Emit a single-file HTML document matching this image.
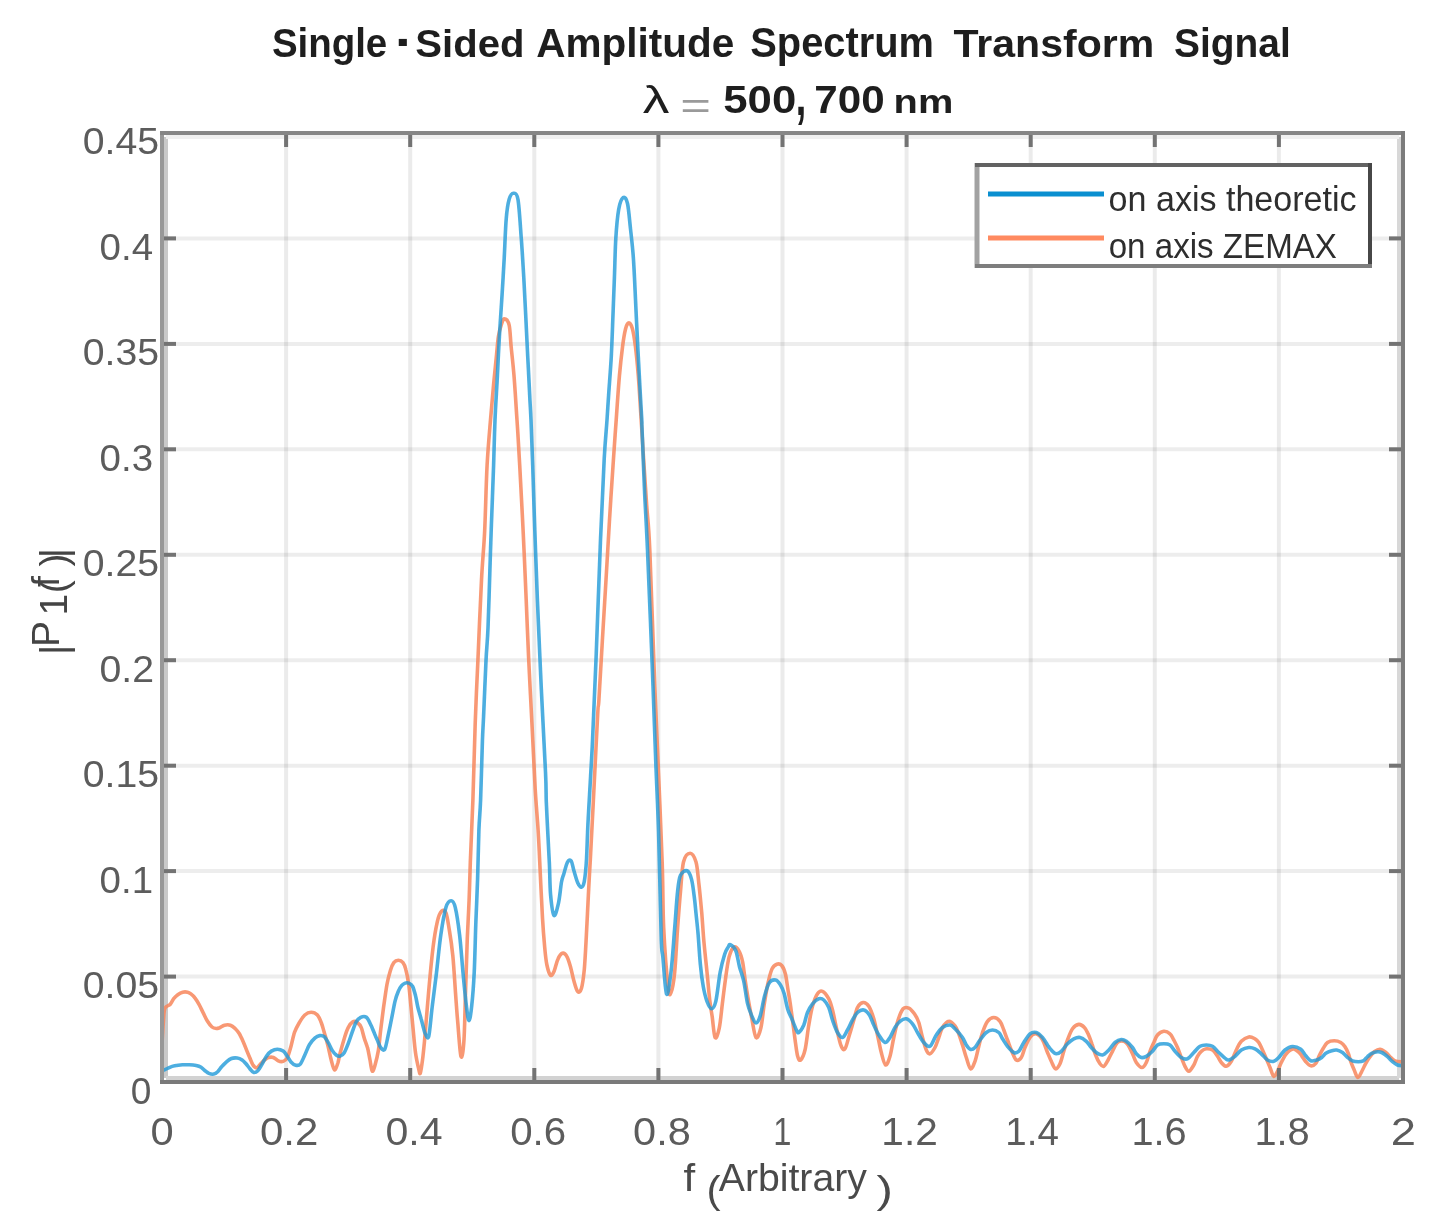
<!DOCTYPE html><html><head><meta charset="utf-8"><style>html,body{margin:0;padding:0;background:#fff;width:1440px;height:1227px;overflow:hidden}svg{display:block}</style></head><body><svg width="1440" height="1227" viewBox="0 0 1440 1227">
<rect width="1440" height="1227" fill="#fff"/>
<line x1="286.1" y1="135.0" x2="286.1" y2="1080.0" stroke="#000" stroke-opacity="0.078" stroke-width="4"/>
<line x1="410.2" y1="135.0" x2="410.2" y2="1080.0" stroke="#000" stroke-opacity="0.078" stroke-width="4"/>
<line x1="534.3" y1="135.0" x2="534.3" y2="1080.0" stroke="#000" stroke-opacity="0.078" stroke-width="4"/>
<line x1="658.4" y1="135.0" x2="658.4" y2="1080.0" stroke="#000" stroke-opacity="0.078" stroke-width="4"/>
<line x1="782.5" y1="135.0" x2="782.5" y2="1080.0" stroke="#000" stroke-opacity="0.078" stroke-width="4"/>
<line x1="906.6" y1="135.0" x2="906.6" y2="1080.0" stroke="#000" stroke-opacity="0.078" stroke-width="4"/>
<line x1="1030.7" y1="135.0" x2="1030.7" y2="1080.0" stroke="#000" stroke-opacity="0.078" stroke-width="4"/>
<line x1="1154.8" y1="135.0" x2="1154.8" y2="1080.0" stroke="#000" stroke-opacity="0.078" stroke-width="4"/>
<line x1="1278.9" y1="135.0" x2="1278.9" y2="1080.0" stroke="#000" stroke-opacity="0.078" stroke-width="4"/>
<line x1="164.0" y1="976.6" x2="1401.0" y2="976.6" stroke="#000" stroke-opacity="0.07" stroke-width="4"/>
<line x1="164.0" y1="871.1" x2="1401.0" y2="871.1" stroke="#000" stroke-opacity="0.07" stroke-width="4"/>
<line x1="164.0" y1="765.7" x2="1401.0" y2="765.7" stroke="#000" stroke-opacity="0.07" stroke-width="4"/>
<line x1="164.0" y1="660.2" x2="1401.0" y2="660.2" stroke="#000" stroke-opacity="0.07" stroke-width="4"/>
<line x1="164.0" y1="554.8" x2="1401.0" y2="554.8" stroke="#000" stroke-opacity="0.07" stroke-width="4"/>
<line x1="164.0" y1="449.3" x2="1401.0" y2="449.3" stroke="#000" stroke-opacity="0.07" stroke-width="4"/>
<line x1="164.0" y1="343.9" x2="1401.0" y2="343.9" stroke="#000" stroke-opacity="0.07" stroke-width="4"/>
<line x1="164.0" y1="238.4" x2="1401.0" y2="238.4" stroke="#000" stroke-opacity="0.07" stroke-width="4"/>
<line x1="166" y1="137" x2="166" y2="1078" stroke="#c9c9c9" stroke-width="4"/>
<line x1="166" y1="1078" x2="1399" y2="1078" stroke="#d2d2d2" stroke-width="4"/>
<line x1="1399" y1="137" x2="1399" y2="1078" stroke="#d8d8d8" stroke-width="4"/>
<line x1="166" y1="137" x2="1399" y2="137" stroke="#f0f0f0" stroke-width="4"/>
<defs><clipPath id="cp"><rect x="163.0" y="133.0" width="1239.0" height="949.0"/></clipPath><filter id="bl" x="-5%" y="-5%" width="110%" height="110%"><feGaussianBlur stdDeviation="0.7"/></filter></defs>
<g fill="none" stroke-linejoin="round" stroke-linecap="round" clip-path="url(#cp)"><g filter="url(#bl)">
<path d="M162.0 1045.0C162.2 1040.8 163.0 1026.2 163.5 1020.0C164.0 1013.8 163.9 1010.6 165.0 1008.0C166.1 1005.4 168.7 1005.9 170.1 1004.4C171.5 1002.9 172.4 1000.3 173.7 998.7C175.0 997.1 176.3 995.8 177.8 994.7C179.3 993.6 181.1 992.6 182.7 992.2C184.3 991.8 186.2 991.9 187.6 992.2C189.0 992.5 189.7 993.0 190.9 993.9C192.1 994.8 193.6 996.1 194.9 997.9C196.2 999.6 197.6 1001.9 199.0 1004.4C200.4 1006.9 201.7 1009.9 203.1 1012.6C204.5 1015.3 205.7 1018.3 207.2 1020.7C208.7 1023.1 210.5 1025.7 212.0 1027.0C213.5 1028.3 215.1 1028.4 216.4 1028.5C217.7 1028.6 218.2 1028.2 219.6 1027.7C220.9 1027.2 222.7 1025.6 224.5 1025.2C226.3 1024.8 228.6 1024.6 230.4 1025.2C232.2 1025.8 233.8 1027.3 235.3 1028.7C236.8 1030.1 237.9 1031.4 239.2 1033.5C240.5 1035.6 241.8 1038.5 243.1 1041.4C244.4 1044.3 245.9 1048.3 247.0 1051.1C248.1 1053.9 248.9 1055.7 249.9 1058.0C250.9 1060.3 251.8 1063.2 252.9 1064.8C254.1 1066.4 255.5 1068.0 256.8 1067.8C258.1 1067.6 259.4 1065.1 260.7 1063.8C262.0 1062.5 263.3 1061.0 264.6 1059.9C265.9 1058.9 267.0 1057.9 268.5 1057.5C270.0 1057.1 271.8 1056.9 273.4 1057.5C275.0 1058.1 276.7 1060.2 278.3 1060.9C279.9 1061.6 281.7 1061.9 283.2 1061.4C284.7 1060.9 285.8 1060.5 287.1 1058.0C288.4 1055.5 289.8 1050.5 291.0 1046.2C292.2 1041.9 293.2 1036.1 294.6 1032.2C296.0 1028.3 297.4 1025.9 299.1 1023.0C300.8 1020.1 302.8 1016.8 304.8 1015.0C306.8 1013.2 309.0 1012.2 311.1 1012.2C313.2 1012.2 315.7 1013.2 317.4 1015.0C319.1 1016.8 320.3 1020.1 321.4 1023.0C322.5 1025.9 323.1 1028.6 324.2 1032.2C325.2 1035.8 326.5 1040.2 327.7 1044.7C328.9 1049.2 330.0 1055.3 331.1 1059.5C332.2 1063.7 333.4 1069.2 334.5 1069.8C335.6 1070.4 336.9 1065.8 337.9 1063.0C338.8 1060.2 339.0 1057.1 340.2 1052.7C341.4 1048.3 343.5 1040.9 344.8 1036.7C346.1 1032.5 346.9 1030.1 348.2 1027.6C349.5 1025.1 351.3 1022.8 352.8 1021.9C354.3 1021.0 355.9 1021.5 357.3 1022.5C358.7 1023.5 360.2 1025.0 361.3 1027.6C362.4 1030.2 363.1 1034.5 364.2 1037.9C365.2 1041.3 366.7 1044.5 367.6 1048.1C368.6 1051.7 369.1 1055.7 369.9 1059.5C370.7 1063.3 371.3 1070.0 372.2 1071.0C373.1 1072.0 374.0 1068.6 375.0 1065.2C376.0 1061.8 377.4 1056.3 378.4 1050.4C379.3 1044.5 379.8 1037.1 380.7 1029.9C381.6 1022.7 382.6 1014.6 383.6 1007.0C384.7 999.4 385.9 990.3 387.0 984.2C388.1 978.1 389.3 974.1 390.4 970.5C391.5 966.9 392.5 964.3 393.8 962.6C395.1 960.9 396.9 960.3 398.4 960.3C399.9 960.3 401.8 961.1 403.0 962.6C404.2 964.1 404.9 965.8 405.8 969.4C406.8 973.0 407.8 977.9 408.7 984.2C409.6 990.5 410.2 999.4 411.0 1007.0C411.8 1014.6 412.4 1022.3 413.2 1029.9C413.9 1037.5 414.6 1046.1 415.5 1052.7C416.4 1059.3 418.1 1066.4 418.9 1069.8C419.7 1073.2 419.7 1074.6 420.3 1073.0C420.9 1071.4 421.8 1065.3 422.5 1060.0C423.2 1054.7 423.4 1052.8 424.5 1041.1C425.6 1029.4 427.4 1005.5 428.8 989.8C430.2 974.1 431.7 958.4 433.1 947.0C434.5 935.6 436.0 927.3 437.4 921.3C438.8 915.3 440.3 912.5 441.7 911.1C443.1 909.7 444.6 909.7 445.9 912.8C447.2 915.9 448.1 922.8 449.3 929.9C450.5 937.0 451.8 945.5 452.8 955.5C453.8 965.5 454.5 978.4 455.3 989.8C456.1 1001.2 456.9 1012.9 457.9 1024.0C458.8 1035.1 460.0 1053.7 461.0 1056.5C462.0 1059.3 463.1 1052.2 463.9 1041.1C464.7 1030.0 465.0 1006.9 465.6 989.8C466.2 972.7 466.7 953.4 467.3 938.4C467.9 923.4 468.6 912.6 469.1 900.0C469.6 887.4 469.7 879.5 470.3 862.8C470.9 846.1 472.1 823.2 472.9 800.0C473.7 776.8 474.4 746.7 475.2 723.5C476.0 700.3 476.8 684.6 477.9 660.7C478.9 636.8 480.4 601.7 481.5 580.0C482.6 558.3 483.8 549.4 484.7 530.3C485.6 511.2 486.1 483.6 487.1 465.2C488.1 446.8 489.4 433.3 490.5 420.0C491.6 406.7 492.5 396.1 493.5 385.5C494.5 374.9 495.6 364.2 496.4 356.1C497.2 348.0 497.6 341.8 498.4 336.6C499.2 331.4 500.3 327.8 501.3 324.8C502.3 321.9 502.9 318.9 504.2 318.9C505.5 318.9 508.0 320.2 509.1 324.8C510.2 329.4 510.3 337.8 511.1 346.3C511.9 354.8 513.0 363.4 514.0 375.7C515.0 388.0 516.0 405.1 517.0 420.0C518.0 434.9 518.7 446.8 519.7 465.2C520.7 483.6 522.0 507.8 523.1 530.3C524.2 552.8 525.3 578.8 526.2 600.0C527.1 621.2 527.6 635.6 528.6 657.4C529.6 679.2 531.2 708.7 532.3 730.7C533.4 752.7 534.2 772.9 535.2 789.4C536.2 805.9 537.2 815.9 538.1 830.0C539.0 844.1 539.6 859.3 540.3 874.0C541.0 888.7 541.8 905.9 542.5 918.1C543.2 930.3 544.0 939.6 544.7 947.4C545.4 955.2 545.9 960.4 546.9 965.0C547.9 969.6 549.3 974.3 550.5 975.3C551.7 976.3 553.0 973.6 554.2 970.9C555.4 968.2 556.5 962.1 557.9 959.2C559.2 956.3 560.8 953.8 562.3 953.3C563.8 952.8 565.4 954.0 566.7 956.2C568.1 958.4 569.2 962.3 570.4 966.5C571.6 970.7 572.8 977.0 574.0 981.2C575.2 985.4 576.5 990.3 577.7 991.5C578.9 992.7 580.3 992.2 581.4 988.5C582.5 984.8 583.4 978.7 584.3 969.4C585.1 960.1 585.8 946.2 586.5 932.7C587.2 919.2 588.1 900.8 588.7 888.7C589.3 876.6 589.5 874.1 590.3 860.0C591.0 845.9 592.0 828.0 593.2 804.0C594.4 780.0 596.7 733.3 597.6 716.0C598.5 698.7 598.1 712.7 598.9 700.0C599.7 687.3 601.2 660.0 602.4 640.0C603.6 620.0 604.8 600.0 606.0 580.0C607.2 560.0 608.3 540.0 609.5 520.0C610.7 500.0 612.3 476.7 613.4 460.0C614.5 443.3 615.2 434.0 616.2 420.0C617.2 406.0 618.3 388.3 619.4 376.0C620.5 363.7 621.6 354.2 622.6 346.3C623.6 338.4 624.6 332.6 625.6 328.7C626.6 324.8 627.8 322.9 628.9 322.9C630.0 322.9 631.3 324.8 632.4 328.7C633.5 332.6 634.4 338.5 635.4 346.3C636.4 354.1 637.3 363.4 638.3 375.7C639.3 388.0 640.3 406.1 641.2 420.0C642.1 433.9 642.7 444.7 643.6 459.0C644.5 473.3 645.7 490.4 646.7 505.6C647.7 520.8 648.4 519.8 649.8 550.0C651.1 580.2 653.3 649.2 654.8 686.7C656.3 724.2 657.4 745.4 658.6 774.7C659.8 804.1 661.4 837.2 662.2 862.8C663.1 888.3 662.7 907.3 663.7 928.0C664.7 948.7 666.9 976.0 668.1 986.8C669.3 997.6 669.9 995.1 671.0 992.6C672.1 990.1 673.6 982.8 674.7 972.0C675.8 961.2 676.6 941.4 677.6 928.0C678.6 914.6 679.5 902.4 680.5 891.4C681.5 880.4 681.9 868.4 683.5 862.0C685.1 855.6 688.0 853.2 690.1 853.2C692.2 853.2 694.5 856.9 696.0 862.0C697.5 867.1 697.9 875.4 698.9 884.0C699.9 892.6 700.9 903.6 701.8 913.4C702.6 923.2 703.1 932.9 704.0 942.7C704.9 952.5 706.0 962.3 707.0 972.1C708.0 981.9 709.0 994.1 709.9 1001.4C710.8 1008.7 711.2 1010.1 712.1 1016.1C713.0 1022.1 713.9 1035.6 715.1 1037.6C716.3 1039.5 718.1 1033.5 719.3 1027.8C720.5 1022.1 721.4 1011.4 722.4 1003.3C723.4 995.1 724.4 986.6 725.5 978.9C726.6 971.2 727.7 962.2 729.1 956.9C730.5 951.6 732.4 948.1 734.0 947.1C735.6 946.1 737.5 948.3 738.9 950.8C740.3 953.2 741.6 957.1 742.6 961.8C743.6 966.5 744.1 972.8 745.0 978.9C745.9 985.0 747.0 992.0 748.1 998.5C749.2 1005.0 750.4 1011.5 751.7 1018.0C753.0 1024.5 754.5 1036.0 756.0 1037.6C757.5 1039.2 759.6 1033.1 760.9 1027.8C762.2 1022.5 762.9 1012.9 764.0 1005.8C765.1 998.7 766.3 991.1 767.6 985.0C768.9 978.9 770.4 972.6 771.9 969.1C773.4 965.6 775.2 964.8 776.8 964.2C778.4 963.6 780.3 963.9 781.7 965.5C783.1 967.1 784.4 970.1 785.4 974.0C786.4 977.9 787.0 983.8 787.8 988.7C788.6 993.6 789.4 997.8 790.2 1003.3C791.0 1008.8 791.9 1015.6 792.7 1021.7C793.5 1027.8 794.3 1034.3 795.1 1040.0C795.9 1045.7 796.7 1052.7 797.6 1056.0C798.5 1059.3 799.4 1061.0 800.6 1060.0C801.8 1059.0 803.6 1055.8 805.0 1050.0C806.4 1044.2 807.5 1032.3 808.8 1025.0C810.0 1017.7 811.0 1011.5 812.5 1006.3C814.0 1001.1 815.8 996.3 817.5 993.8C819.2 991.3 820.6 990.5 822.5 991.3C824.4 992.1 827.1 995.7 828.8 998.8C830.5 1001.9 831.1 1004.8 832.5 1010.0C833.9 1015.2 835.4 1024.0 836.9 1030.0C838.4 1036.0 839.9 1043.2 841.3 1046.3C842.6 1049.4 843.6 1050.7 845.0 1048.8C846.4 1046.9 847.9 1039.8 849.4 1035.0C850.9 1030.2 852.4 1024.6 853.8 1020.0C855.1 1015.4 856.0 1010.4 857.5 1007.5C859.0 1004.6 861.2 1002.7 863.1 1002.5C865.0 1002.3 867.0 1003.6 868.8 1006.3C870.6 1009.0 872.3 1014.0 873.8 1018.8C875.2 1023.6 876.2 1029.4 877.5 1035.0C878.8 1040.6 879.9 1047.5 881.3 1052.5C882.6 1057.5 884.1 1064.4 885.6 1065.0C887.1 1065.6 888.6 1060.9 890.0 1056.3C891.4 1051.7 892.4 1043.5 893.8 1037.5C895.1 1031.5 896.5 1024.8 898.1 1020.0C899.7 1015.2 901.3 1010.8 903.1 1008.8C904.9 1006.8 906.9 1007.3 908.8 1008.1C910.7 1008.9 912.7 1011.4 914.4 1013.8C916.1 1016.2 917.4 1018.5 918.8 1022.5C920.1 1026.5 921.2 1032.9 922.5 1037.5C923.8 1042.1 925.0 1047.3 926.3 1050.0C927.5 1052.7 928.5 1054.2 930.0 1053.8C931.5 1053.4 933.5 1050.2 935.0 1047.5C936.5 1044.8 937.5 1040.8 938.8 1037.5C940.0 1034.2 940.8 1030.2 942.5 1027.5C944.2 1024.8 946.7 1021.5 948.8 1021.3C950.9 1021.0 953.3 1023.9 955.0 1026.0C956.7 1028.1 957.5 1030.6 958.8 1033.8C960.0 1037.0 961.2 1041.0 962.5 1045.0C963.8 1049.0 964.9 1053.5 966.3 1057.5C967.6 1061.5 969.1 1068.2 970.6 1068.8C972.1 1069.4 973.6 1065.0 975.0 1061.3C976.4 1057.5 977.5 1051.1 978.8 1046.3C980.0 1041.5 981.0 1036.7 982.5 1032.5C984.0 1028.3 985.6 1023.8 987.5 1021.3C989.4 1018.8 991.7 1017.5 993.8 1017.5C995.9 1017.5 998.3 1019.2 1000.0 1021.3C1001.7 1023.4 1002.5 1026.9 1003.8 1030.0C1005.0 1033.1 1006.2 1036.7 1007.5 1040.0C1008.8 1043.3 1009.8 1046.7 1011.3 1050.0C1012.8 1053.3 1014.6 1058.8 1016.3 1060.0C1018.0 1061.2 1019.8 1059.6 1021.3 1057.5C1022.8 1055.4 1023.5 1050.8 1025.0 1047.5C1026.5 1044.2 1028.3 1039.8 1030.0 1037.5C1031.7 1035.2 1033.3 1034.0 1035.0 1033.8C1036.7 1033.6 1038.5 1034.8 1040.0 1036.3C1041.5 1037.8 1042.5 1039.8 1043.8 1042.5C1045.0 1045.2 1046.2 1049.4 1047.5 1052.5C1048.8 1055.6 1050.0 1058.6 1051.3 1061.3C1052.6 1064.0 1054.1 1068.4 1055.6 1068.8C1057.0 1069.2 1058.6 1066.7 1060.0 1063.8C1061.4 1060.9 1062.5 1055.3 1063.8 1051.3C1065.0 1047.3 1066.0 1043.8 1067.5 1040.0C1069.0 1036.2 1070.6 1031.4 1072.5 1028.8C1074.4 1026.2 1076.8 1024.6 1078.8 1024.4C1080.8 1024.2 1082.9 1025.9 1084.4 1027.5C1086.0 1029.1 1086.8 1031.1 1088.1 1033.8C1089.3 1036.5 1090.7 1040.3 1091.9 1043.8C1093.2 1047.3 1094.2 1051.7 1095.6 1055.0C1096.9 1058.3 1098.6 1061.9 1100.0 1063.8C1101.4 1065.7 1102.5 1066.9 1103.8 1066.3C1105.1 1065.7 1106.6 1062.5 1108.1 1060.0C1109.5 1057.5 1110.9 1054.2 1112.5 1051.3C1114.1 1048.4 1115.6 1044.2 1117.5 1042.5C1119.4 1040.8 1122.0 1040.9 1123.8 1041.3C1125.6 1041.7 1126.6 1042.9 1128.1 1045.0C1129.5 1047.1 1131.1 1050.9 1132.5 1053.8C1133.9 1056.7 1134.7 1060.2 1136.3 1062.5C1137.9 1064.8 1140.2 1067.5 1141.9 1067.5C1143.6 1067.5 1145.0 1065.2 1146.3 1062.5C1147.6 1059.8 1148.8 1054.6 1150.0 1051.3C1151.2 1048.0 1152.5 1045.2 1153.8 1042.5C1155.0 1039.8 1155.8 1036.9 1157.5 1035.0C1159.2 1033.1 1161.7 1031.5 1163.8 1031.3C1165.9 1031.1 1168.3 1032.3 1170.0 1033.8C1171.7 1035.2 1172.5 1037.7 1173.8 1040.0C1175.0 1042.3 1176.2 1044.6 1177.5 1047.5C1178.8 1050.4 1180.0 1054.4 1181.3 1057.5C1182.5 1060.6 1183.8 1064.0 1185.0 1066.3C1186.2 1068.6 1187.3 1071.5 1188.8 1071.3C1190.3 1071.1 1192.3 1067.5 1193.8 1065.0C1195.2 1062.5 1196.2 1058.6 1197.5 1056.3C1198.8 1054.0 1199.8 1052.5 1201.3 1051.3C1202.8 1050.0 1204.4 1049.0 1206.3 1048.8C1208.2 1048.6 1210.6 1048.8 1212.5 1050.0C1214.4 1051.2 1216.0 1054.2 1217.5 1056.3C1219.0 1058.4 1219.8 1060.8 1221.3 1062.5C1222.8 1064.2 1224.6 1066.5 1226.3 1066.3C1228.0 1066.1 1229.6 1064.0 1231.3 1061.3C1233.0 1058.6 1234.6 1053.3 1236.3 1050.0C1238.0 1046.7 1239.2 1043.5 1241.3 1041.3C1243.4 1039.1 1246.5 1037.3 1248.8 1036.9C1251.1 1036.5 1253.3 1037.9 1255.0 1038.8C1256.7 1039.7 1257.5 1040.6 1258.8 1042.5C1260.0 1044.4 1261.2 1047.3 1262.5 1050.0C1263.8 1052.7 1265.0 1055.9 1266.3 1058.8C1267.5 1061.7 1268.8 1064.6 1270.0 1067.5C1271.2 1070.4 1272.5 1075.7 1273.8 1076.3C1275.0 1076.9 1276.2 1073.6 1277.5 1071.3C1278.8 1069.0 1279.8 1065.4 1281.3 1062.5C1282.8 1059.6 1284.3 1056.0 1286.3 1053.8C1288.2 1051.5 1291.0 1049.3 1293.0 1049.0C1295.0 1048.7 1296.8 1050.6 1298.3 1051.7C1299.8 1052.8 1300.5 1054.1 1301.7 1055.8C1303.0 1057.5 1304.3 1060.0 1305.8 1061.7C1307.3 1063.4 1309.1 1065.5 1310.8 1065.8C1312.5 1066.1 1314.4 1065.0 1315.8 1063.3C1317.2 1061.6 1318.0 1058.3 1319.2 1055.8C1320.5 1053.3 1321.9 1050.5 1323.3 1048.3C1324.7 1046.1 1325.7 1043.8 1327.5 1042.5C1329.3 1041.2 1332.0 1040.8 1334.2 1040.8C1336.4 1040.8 1339.0 1041.5 1340.8 1042.5C1342.6 1043.5 1343.8 1044.9 1345.0 1046.7C1346.2 1048.5 1347.3 1050.8 1348.3 1053.3C1349.3 1055.8 1349.8 1058.9 1350.8 1061.7C1351.8 1064.5 1353.0 1067.4 1354.2 1070.0C1355.4 1072.6 1356.5 1077.5 1357.9 1077.5C1359.3 1077.5 1361.2 1072.4 1362.5 1070.0C1363.8 1067.6 1364.5 1065.5 1365.8 1063.3C1367.0 1061.1 1368.6 1058.6 1370.0 1056.7C1371.4 1054.8 1372.5 1053.0 1374.2 1051.7C1375.9 1050.5 1378.1 1049.1 1380.0 1049.2C1381.9 1049.3 1384.1 1051.2 1385.8 1052.5C1387.5 1053.8 1388.5 1055.3 1390.0 1056.7C1391.5 1058.1 1392.8 1059.9 1395.0 1060.8C1397.2 1061.7 1401.7 1061.8 1403.0 1062.0" stroke="#f7865c" stroke-width="3.6" stroke-opacity="0.85"/>
<path d="M162.0 1071.0C162.5 1070.8 163.6 1070.3 164.9 1069.7C166.2 1069.1 168.2 1068.0 169.8 1067.3C171.4 1066.6 172.6 1066.2 174.7 1065.8C176.8 1065.4 180.1 1065.0 182.5 1064.8C184.9 1064.6 187.0 1064.7 189.3 1064.8C191.6 1064.9 194.2 1065.1 196.2 1065.5C198.2 1065.9 199.6 1066.3 201.1 1067.2C202.6 1068.1 203.7 1069.7 205.0 1070.7C206.3 1071.7 207.4 1072.8 208.9 1073.4C210.4 1074.0 212.3 1074.4 213.8 1074.1C215.3 1073.8 216.4 1072.9 217.7 1071.7C219.0 1070.5 220.1 1068.4 221.6 1066.8C223.1 1065.2 224.9 1063.3 226.5 1061.9C228.1 1060.5 229.6 1059.2 231.4 1058.5C233.2 1057.8 235.4 1057.8 237.2 1058.0C239.0 1058.2 240.6 1058.9 242.1 1059.9C243.6 1060.9 244.7 1062.3 246.0 1063.8C247.3 1065.3 248.6 1067.2 249.9 1068.7C251.2 1070.2 252.5 1072.2 253.8 1072.5C255.1 1072.8 256.5 1072.0 257.8 1070.7C259.1 1069.4 260.2 1067.2 261.7 1064.8C263.2 1062.3 265.0 1058.3 266.6 1056.0C268.2 1053.7 269.6 1052.2 271.4 1051.1C273.2 1050.0 275.3 1049.2 277.3 1049.2C279.3 1049.2 281.6 1050.0 283.2 1051.1C284.8 1052.2 285.8 1054.2 287.1 1056.0C288.4 1057.8 289.6 1060.4 291.0 1061.9C292.4 1063.4 294.1 1064.8 295.7 1065.2C297.2 1065.6 298.8 1065.8 300.3 1064.1C301.8 1062.4 303.3 1058.2 304.8 1055.0C306.3 1051.8 307.7 1047.5 309.4 1044.7C311.1 1041.9 313.4 1039.4 315.1 1037.9C316.8 1036.4 318.2 1035.8 319.7 1035.6C321.2 1035.4 322.7 1035.4 324.2 1036.7C325.7 1038.0 327.5 1041.3 328.8 1043.6C330.1 1045.9 331.0 1048.5 332.2 1050.4C333.4 1052.3 334.9 1054.0 336.2 1055.0C337.5 1056.0 338.9 1056.5 340.2 1056.1C341.5 1055.7 342.9 1054.8 344.2 1052.7C345.5 1050.6 346.9 1047.0 348.2 1043.6C349.5 1040.2 350.9 1035.8 352.2 1032.2C353.5 1028.6 354.8 1024.4 356.2 1021.9C357.6 1019.4 359.0 1018.1 360.7 1017.3C362.4 1016.5 364.7 1016.0 366.4 1017.3C368.1 1018.6 369.7 1022.6 371.0 1025.3C372.3 1028.0 373.3 1030.8 374.4 1033.3C375.4 1035.8 376.2 1037.7 377.3 1040.1C378.4 1042.5 379.5 1046.0 380.7 1047.5C381.9 1049.0 383.5 1051.3 384.7 1049.3C385.9 1047.3 387.0 1040.7 388.1 1035.6C389.2 1030.5 390.5 1024.2 391.6 1018.5C392.8 1012.8 393.9 1005.9 395.0 1001.3C396.1 996.7 397.3 993.8 398.4 991.1C399.5 988.5 400.7 986.7 401.8 985.4C402.9 984.1 404.1 983.5 405.2 983.1C406.3 982.7 407.5 982.6 408.7 983.1C409.9 983.6 411.5 984.2 412.6 986.3C413.7 988.4 414.6 992.1 415.5 995.6C416.4 999.1 416.9 1003.1 417.8 1007.0C418.7 1010.9 420.2 1015.3 421.1 1018.8C422.1 1022.3 422.8 1025.5 423.5 1028.0C424.2 1030.5 424.5 1032.7 425.4 1034.0C426.3 1035.3 427.7 1040.5 428.8 1036.0C429.9 1031.5 430.9 1017.4 432.2 1006.9C433.5 996.4 435.1 984.7 436.5 972.7C437.9 960.7 439.2 945.9 440.8 935.0C442.4 924.1 444.2 913.3 445.9 907.6C447.6 901.9 449.5 900.8 451.1 900.8C452.7 900.8 453.9 901.9 455.3 907.6C456.7 913.3 458.3 924.1 459.6 935.0C460.9 945.9 461.9 960.7 463.0 972.7C464.1 984.7 465.5 998.9 466.5 1006.9C467.5 1014.9 468.1 1020.6 469.0 1020.6C469.9 1020.6 470.7 1014.9 471.6 1006.9C472.5 998.9 473.5 987.0 474.2 972.7C474.9 958.4 475.3 937.0 475.9 921.3C476.5 905.6 477.1 893.8 477.6 878.6C478.1 863.4 478.4 843.1 478.9 830.0C479.4 816.9 480.0 814.8 480.6 800.0C481.2 785.2 481.9 755.4 482.4 741.4C482.9 727.4 483.0 729.5 483.6 716.0C484.2 702.5 485.3 675.4 486.0 660.7C486.7 646.0 487.4 643.1 488.0 628.0C488.6 612.9 489.4 586.3 489.9 570.0C490.4 553.7 490.6 547.8 491.2 530.3C491.8 512.8 493.0 483.6 493.6 465.2C494.2 446.8 494.4 434.9 495.0 420.0C495.6 405.1 496.7 389.6 497.4 375.7C498.1 361.8 498.6 349.7 499.4 336.6C500.1 323.6 501.1 310.4 501.9 297.4C502.7 284.3 503.5 271.4 504.2 258.3C504.9 245.2 505.4 228.9 506.2 219.1C507.0 209.3 507.9 203.9 509.1 199.6C510.3 195.3 511.9 193.3 513.4 193.3C514.9 193.3 516.7 192.0 518.0 199.6C519.3 207.2 520.3 225.7 521.3 238.7C522.3 251.7 523.0 264.8 523.8 277.8C524.5 290.9 525.1 304.0 525.8 317.0C526.4 330.0 527.1 342.9 527.7 356.0C528.4 369.1 529.2 384.6 529.7 395.3C530.2 406.0 530.5 408.4 531.0 420.0C531.5 431.6 532.1 446.8 532.7 465.2C533.3 483.6 534.0 507.8 534.8 530.3C535.6 552.8 536.3 573.9 537.4 600.0C538.5 626.1 539.9 658.0 541.2 686.7C542.6 715.4 544.6 752.8 545.5 772.0C546.4 791.2 545.9 791.8 546.3 802.0C546.7 812.2 547.3 822.7 547.8 833.0C548.3 843.3 548.9 853.7 549.4 864.0C549.9 874.3 549.8 886.4 550.6 895.0C551.4 903.6 552.7 914.2 554.0 915.5C555.3 916.8 557.2 908.6 558.5 903.0C559.8 897.4 560.6 886.8 561.5 882.0C562.4 877.2 562.8 877.3 563.8 874.0C564.8 870.7 566.2 864.5 567.4 862.3C568.6 860.1 570.0 859.3 571.1 860.8C572.2 862.3 572.9 867.4 574.0 871.1C575.1 874.8 576.5 880.1 577.7 882.8C578.9 885.5 580.3 887.4 581.4 887.2C582.5 887.0 583.4 886.0 584.3 881.4C585.1 876.8 585.9 869.8 586.5 859.4C587.1 849.0 587.2 837.8 588.2 818.8C589.2 799.8 591.0 772.3 592.3 745.4C593.6 718.5 594.7 691.6 596.1 657.4C597.5 623.2 599.1 573.1 600.5 540.0C601.9 506.9 603.1 479.0 604.2 459.0C605.3 439.0 606.3 430.6 607.0 420.0C607.7 409.4 607.9 405.9 608.6 395.3C609.3 384.7 610.6 369.2 611.3 356.1C612.0 343.1 612.4 330.1 612.9 317.0C613.4 303.9 613.9 290.9 614.4 277.8C614.9 264.8 615.1 250.1 615.8 238.7C616.5 227.3 617.5 216.2 618.7 209.4C619.9 202.6 621.7 198.6 623.2 197.6C624.7 196.6 626.3 198.3 627.5 203.5C628.7 208.7 629.5 219.8 630.5 228.9C631.5 238.0 632.6 246.9 633.4 258.3C634.2 269.7 634.8 284.3 635.4 297.4C636.0 310.4 636.6 323.6 637.3 336.6C637.9 349.7 638.5 361.8 639.3 375.7C640.0 389.6 641.3 411.3 641.8 420.0C642.2 428.7 641.5 416.3 642.0 428.0C642.5 439.7 643.6 469.7 644.5 490.0C645.4 510.3 646.3 522.1 647.5 550.0C648.7 577.9 650.5 622.4 651.9 657.4C653.3 692.4 654.6 730.7 655.7 760.0C656.8 789.3 657.7 803.9 658.6 833.4C659.5 862.9 660.5 916.3 661.2 937.0C661.9 957.7 662.0 947.9 662.9 957.4C663.8 966.9 665.2 991.7 666.6 994.1C668.0 996.5 669.6 983.0 671.0 972.0C672.4 961.0 673.6 941.4 674.7 928.0C675.8 914.6 676.6 900.2 677.6 891.4C678.6 882.6 678.9 878.6 680.5 875.2C682.1 871.8 685.2 870.1 687.1 870.8C689.0 871.5 690.4 875.0 691.6 879.6C692.8 884.2 693.8 893.1 694.5 898.7C695.2 904.3 695.4 907.3 696.0 913.4C696.6 919.5 697.5 926.8 698.2 935.4C698.9 944.0 699.5 956.1 700.4 964.7C701.2 973.3 702.2 980.7 703.3 986.8C704.4 992.9 705.6 997.7 707.0 1001.4C708.4 1005.1 709.9 1008.8 711.4 1008.8C712.9 1008.8 714.3 1007.5 715.8 1001.4C717.3 995.3 718.7 979.9 720.2 972.1C721.7 964.3 723.3 958.7 724.6 954.5C725.9 950.3 727.2 948.7 728.2 947.1C729.2 945.5 729.0 944.1 730.3 944.7C731.6 945.3 734.3 947.1 735.8 950.8C737.3 954.5 738.2 961.6 739.5 966.7C740.8 971.8 742.5 975.2 743.8 981.3C745.1 987.4 746.2 997.6 747.5 1003.3C748.8 1009.0 750.3 1012.3 751.7 1015.6C753.1 1018.9 754.6 1022.9 756.0 1022.9C757.4 1022.9 758.9 1020.1 760.3 1015.6C761.7 1011.1 763.1 1001.5 764.6 996.0C766.1 990.5 767.7 985.2 769.5 982.6C771.3 980.0 773.8 979.7 775.6 980.1C777.4 980.5 779.1 982.8 780.5 985.0C781.9 987.2 782.9 989.5 784.1 993.6C785.3 997.7 786.6 1005.4 787.8 1009.5C789.0 1013.6 790.1 1014.6 791.5 1018.0C792.9 1021.4 795.2 1027.6 796.4 1030.0C797.6 1032.4 797.6 1033.3 798.8 1032.5C800.0 1031.7 802.3 1028.3 803.8 1025.0C805.2 1021.7 806.0 1016.0 807.5 1012.5C809.0 1009.0 810.6 1006.1 812.5 1003.8C814.4 1001.5 816.9 999.4 818.8 998.8C820.7 998.2 822.1 998.5 823.8 1000.0C825.5 1001.5 827.3 1004.2 828.8 1007.5C830.2 1010.8 831.0 1015.8 832.5 1020.0C834.0 1024.2 835.8 1029.6 837.5 1032.5C839.2 1035.4 840.8 1037.9 842.5 1037.5C844.2 1037.1 845.8 1032.9 847.5 1030.0C849.2 1027.1 850.8 1022.9 852.5 1020.0C854.2 1017.1 855.6 1014.2 857.5 1012.5C859.4 1010.8 861.8 1009.6 863.8 1010.0C865.8 1010.4 867.7 1012.5 869.4 1015.0C871.1 1017.5 872.2 1021.7 873.8 1025.0C875.4 1028.3 876.9 1032.1 878.8 1035.0C880.7 1037.9 883.1 1042.1 885.0 1042.5C886.9 1042.9 888.3 1040.0 890.0 1037.5C891.7 1035.0 893.3 1030.2 895.0 1027.5C896.7 1024.8 898.1 1022.8 900.0 1021.3C901.9 1019.8 904.2 1018.4 906.3 1018.8C908.4 1019.2 910.6 1021.5 912.5 1023.8C914.4 1026.1 915.6 1029.4 917.5 1032.5C919.4 1035.6 921.7 1040.2 923.8 1042.5C925.9 1044.8 927.9 1047.5 930.0 1046.3C932.1 1045.0 934.2 1038.1 936.3 1035.0C938.4 1031.9 940.2 1029.2 942.5 1027.5C944.8 1025.8 947.9 1024.8 950.0 1025.0C952.1 1025.2 952.9 1026.7 955.0 1028.8C957.1 1030.9 960.6 1034.8 962.5 1037.5C964.4 1040.2 964.9 1043.0 966.3 1045.0C967.6 1047.0 969.1 1049.0 970.6 1049.4C972.1 1049.8 973.4 1049.1 975.0 1047.5C976.6 1045.9 978.1 1042.5 980.0 1040.0C981.9 1037.5 984.2 1034.2 986.3 1032.5C988.4 1030.8 990.4 1030.0 992.5 1030.0C994.6 1030.0 997.1 1031.0 998.8 1032.5C1000.5 1034.0 1001.0 1036.5 1002.5 1038.8C1004.0 1041.1 1005.6 1044.0 1007.5 1046.3C1009.4 1048.6 1011.9 1051.7 1013.8 1052.5C1015.7 1053.3 1017.1 1053.0 1018.8 1051.3C1020.5 1049.6 1021.9 1045.4 1023.8 1042.5C1025.7 1039.6 1027.9 1035.5 1030.0 1033.8C1032.1 1032.1 1034.2 1031.9 1036.3 1032.5C1038.4 1033.1 1040.6 1035.4 1042.5 1037.5C1044.4 1039.6 1046.0 1042.9 1047.5 1045.0C1049.0 1047.1 1049.8 1048.5 1051.3 1050.0C1052.8 1051.5 1054.6 1053.6 1056.3 1053.8C1058.0 1054.0 1059.4 1053.0 1061.3 1051.3C1063.2 1049.6 1065.4 1045.9 1067.5 1043.8C1069.6 1041.7 1071.7 1039.8 1073.8 1038.8C1075.9 1037.8 1077.9 1037.1 1080.0 1037.5C1082.1 1037.9 1084.4 1039.6 1086.3 1041.3C1088.2 1043.0 1089.6 1045.6 1091.3 1047.5C1093.0 1049.4 1094.4 1051.2 1096.3 1052.5C1098.2 1053.8 1100.4 1055.4 1102.5 1055.0C1104.6 1054.6 1106.7 1052.1 1108.8 1050.0C1110.9 1047.9 1112.9 1044.2 1115.0 1042.5C1117.1 1040.8 1119.4 1039.7 1121.3 1039.5C1123.2 1039.3 1124.4 1040.0 1126.3 1041.3C1128.2 1042.6 1130.8 1045.4 1132.5 1047.5C1134.2 1049.6 1134.8 1052.1 1136.3 1053.8C1137.8 1055.5 1139.6 1057.1 1141.3 1057.5C1143.0 1057.9 1144.4 1057.3 1146.3 1056.3C1148.2 1055.3 1150.6 1053.2 1152.5 1051.3C1154.4 1049.4 1155.6 1046.2 1157.5 1045.0C1159.4 1043.8 1161.7 1043.8 1163.8 1043.8C1165.9 1043.8 1168.1 1043.8 1170.0 1045.0C1171.9 1046.2 1173.1 1049.2 1175.0 1051.3C1176.9 1053.4 1179.2 1056.2 1181.3 1057.5C1183.4 1058.8 1185.4 1059.6 1187.5 1058.8C1189.6 1058.0 1191.7 1054.6 1193.8 1052.5C1195.9 1050.4 1197.9 1047.5 1200.0 1046.3C1202.1 1045.0 1204.2 1045.0 1206.3 1045.0C1208.4 1045.0 1210.4 1045.0 1212.5 1046.3C1214.6 1047.5 1216.7 1050.5 1218.8 1052.5C1220.9 1054.5 1223.3 1056.8 1225.0 1058.1C1226.7 1059.3 1227.1 1060.3 1228.8 1060.0C1230.5 1059.7 1232.9 1058.0 1235.0 1056.3C1237.1 1054.6 1239.0 1051.5 1241.3 1050.0C1243.6 1048.5 1246.5 1047.7 1248.8 1047.5C1251.1 1047.3 1252.9 1047.8 1255.0 1048.8C1257.1 1049.8 1259.2 1051.9 1261.3 1053.8C1263.4 1055.7 1265.4 1058.8 1267.5 1060.0C1269.6 1061.2 1271.9 1061.7 1273.8 1061.3C1275.7 1060.9 1276.9 1059.4 1278.8 1057.5C1280.7 1055.6 1282.7 1051.8 1285.0 1050.0C1287.3 1048.2 1289.9 1046.6 1292.5 1046.5C1295.1 1046.4 1298.6 1047.7 1300.8 1049.2C1303.0 1050.8 1304.1 1053.9 1305.8 1055.8C1307.5 1057.7 1309.0 1060.1 1310.8 1060.8C1312.6 1061.5 1314.9 1060.5 1316.7 1060.0C1318.5 1059.5 1320.2 1058.6 1321.7 1057.5C1323.2 1056.4 1324.1 1054.4 1325.8 1053.3C1327.5 1052.2 1329.9 1051.3 1331.7 1050.8C1333.5 1050.2 1334.9 1049.7 1336.7 1050.0C1338.5 1050.3 1340.8 1051.4 1342.5 1052.5C1344.2 1053.6 1345.0 1055.3 1346.7 1056.7C1348.4 1058.1 1350.6 1060.0 1352.5 1060.8C1354.4 1061.6 1356.5 1061.7 1358.3 1061.7C1360.1 1061.7 1361.8 1061.6 1363.3 1060.8C1364.8 1060.0 1366.1 1058.0 1367.5 1056.7C1368.9 1055.5 1370.0 1054.1 1371.7 1053.3C1373.4 1052.5 1375.8 1051.8 1377.5 1051.7C1379.2 1051.6 1380.0 1051.7 1381.7 1052.5C1383.4 1053.3 1385.7 1055.2 1387.5 1056.7C1389.3 1058.2 1390.8 1060.3 1392.5 1061.7C1394.2 1063.1 1395.8 1064.3 1397.5 1065.0C1399.2 1065.7 1402.1 1065.7 1403.0 1065.8" stroke="#1f9ad8" stroke-width="3.6" stroke-opacity="0.8"/>
</g></g>
<line x1="162.0" y1="1082.0" x2="162.0" y2="1068.0" stroke="#737373" stroke-width="4"/>
<line x1="162.0" y1="133.0" x2="162.0" y2="147.0" stroke="#737373" stroke-width="4"/>
<line x1="286.1" y1="1082.0" x2="286.1" y2="1068.0" stroke="#737373" stroke-width="4"/>
<line x1="286.1" y1="133.0" x2="286.1" y2="147.0" stroke="#737373" stroke-width="4"/>
<line x1="410.2" y1="1082.0" x2="410.2" y2="1068.0" stroke="#737373" stroke-width="4"/>
<line x1="410.2" y1="133.0" x2="410.2" y2="147.0" stroke="#737373" stroke-width="4"/>
<line x1="534.3" y1="1082.0" x2="534.3" y2="1068.0" stroke="#737373" stroke-width="4"/>
<line x1="534.3" y1="133.0" x2="534.3" y2="147.0" stroke="#737373" stroke-width="4"/>
<line x1="658.4" y1="1082.0" x2="658.4" y2="1068.0" stroke="#737373" stroke-width="4"/>
<line x1="658.4" y1="133.0" x2="658.4" y2="147.0" stroke="#737373" stroke-width="4"/>
<line x1="782.5" y1="1082.0" x2="782.5" y2="1068.0" stroke="#737373" stroke-width="4"/>
<line x1="782.5" y1="133.0" x2="782.5" y2="147.0" stroke="#737373" stroke-width="4"/>
<line x1="906.6" y1="1082.0" x2="906.6" y2="1068.0" stroke="#737373" stroke-width="4"/>
<line x1="906.6" y1="133.0" x2="906.6" y2="147.0" stroke="#737373" stroke-width="4"/>
<line x1="1030.7" y1="1082.0" x2="1030.7" y2="1068.0" stroke="#737373" stroke-width="4"/>
<line x1="1030.7" y1="133.0" x2="1030.7" y2="147.0" stroke="#737373" stroke-width="4"/>
<line x1="1154.8" y1="1082.0" x2="1154.8" y2="1068.0" stroke="#737373" stroke-width="4"/>
<line x1="1154.8" y1="133.0" x2="1154.8" y2="147.0" stroke="#737373" stroke-width="4"/>
<line x1="1278.9" y1="1082.0" x2="1278.9" y2="1068.0" stroke="#737373" stroke-width="4"/>
<line x1="1278.9" y1="133.0" x2="1278.9" y2="147.0" stroke="#737373" stroke-width="4"/>
<line x1="1403.0" y1="1082.0" x2="1403.0" y2="1068.0" stroke="#737373" stroke-width="4"/>
<line x1="1403.0" y1="133.0" x2="1403.0" y2="147.0" stroke="#737373" stroke-width="4"/>
<line x1="162.0" y1="1082.0" x2="176.0" y2="1082.0" stroke="#737373" stroke-width="4"/>
<line x1="1403.0" y1="1082.0" x2="1389.0" y2="1082.0" stroke="#737373" stroke-width="4"/>
<line x1="162.0" y1="976.6" x2="176.0" y2="976.6" stroke="#737373" stroke-width="4"/>
<line x1="1403.0" y1="976.6" x2="1389.0" y2="976.6" stroke="#737373" stroke-width="4"/>
<line x1="162.0" y1="871.1" x2="176.0" y2="871.1" stroke="#737373" stroke-width="4"/>
<line x1="1403.0" y1="871.1" x2="1389.0" y2="871.1" stroke="#737373" stroke-width="4"/>
<line x1="162.0" y1="765.7" x2="176.0" y2="765.7" stroke="#737373" stroke-width="4"/>
<line x1="1403.0" y1="765.7" x2="1389.0" y2="765.7" stroke="#737373" stroke-width="4"/>
<line x1="162.0" y1="660.2" x2="176.0" y2="660.2" stroke="#737373" stroke-width="4"/>
<line x1="1403.0" y1="660.2" x2="1389.0" y2="660.2" stroke="#737373" stroke-width="4"/>
<line x1="162.0" y1="554.8" x2="176.0" y2="554.8" stroke="#737373" stroke-width="4"/>
<line x1="1403.0" y1="554.8" x2="1389.0" y2="554.8" stroke="#737373" stroke-width="4"/>
<line x1="162.0" y1="449.3" x2="176.0" y2="449.3" stroke="#737373" stroke-width="4"/>
<line x1="1403.0" y1="449.3" x2="1389.0" y2="449.3" stroke="#737373" stroke-width="4"/>
<line x1="162.0" y1="343.9" x2="176.0" y2="343.9" stroke="#737373" stroke-width="4"/>
<line x1="1403.0" y1="343.9" x2="1389.0" y2="343.9" stroke="#737373" stroke-width="4"/>
<line x1="162.0" y1="238.4" x2="176.0" y2="238.4" stroke="#737373" stroke-width="4"/>
<line x1="1403.0" y1="238.4" x2="1389.0" y2="238.4" stroke="#737373" stroke-width="4"/>
<line x1="162.0" y1="133.0" x2="176.0" y2="133.0" stroke="#737373" stroke-width="4"/>
<line x1="1403.0" y1="133.0" x2="1389.0" y2="133.0" stroke="#737373" stroke-width="4"/>
<line x1="162" y1="131" x2="162" y2="1084" stroke="#989898" stroke-width="4"/>
<line x1="160" y1="133" x2="1405" y2="133" stroke="#868686" stroke-width="4"/>
<line x1="1403" y1="131" x2="1403" y2="1084" stroke="#7c7c7c" stroke-width="4"/>
<line x1="160" y1="1082" x2="1405" y2="1082" stroke="#7a7a7a" stroke-width="4"/>
<rect x="977" y="165" width="393" height="101" fill="#fff"/>
<line x1="977" y1="163" x2="977" y2="268" stroke="#a2a2a2" stroke-width="5"/>
<line x1="975" y1="165" x2="1372" y2="165" stroke="#626262" stroke-width="4"/>
<line x1="1370" y1="163" x2="1370" y2="268" stroke="#474747" stroke-width="4"/>
<line x1="975" y1="266" x2="1372" y2="266" stroke="#7e7e7e" stroke-width="4"/>
<line x1="988" y1="194" x2="1104" y2="194" stroke="#0a8fd0" stroke-width="5"/>
<line x1="988" y1="238" x2="1104" y2="238" stroke="#ff8a60" stroke-width="5"/>
<text x="271.88" y="57.10" font-family="Liberation Sans, Arial, sans-serif" font-size="40.00" font-weight="bold" fill="#1e1e1e" textLength="115.31" lengthAdjust="spacingAndGlyphs">Single</text>
<text x="397.40" y="58.00" font-family="Liberation Sans, Arial, sans-serif" font-size="60.00" font-weight="bold" fill="#1e1e1e" textLength="10.66" lengthAdjust="spacingAndGlyphs">-</text>
<text x="415.30" y="56.80" font-family="Liberation Sans, Arial, sans-serif" font-size="39.60" font-weight="bold" fill="#1e1e1e" textLength="109.12" lengthAdjust="spacingAndGlyphs">Sided</text>
<text x="536.29" y="57.10" font-family="Liberation Sans, Arial, sans-serif" font-size="40.00" font-weight="bold" fill="#1e1e1e" textLength="198.08" lengthAdjust="spacingAndGlyphs">Amplitude</text>
<text x="750.31" y="56.66" font-family="Liberation Sans, Arial, sans-serif" font-size="42.22" font-weight="bold" fill="#1e1e1e" textLength="183.68" lengthAdjust="spacingAndGlyphs">Spectrum</text>
<text x="953.50" y="56.80" font-family="Liberation Sans, Arial, sans-serif" font-size="39.60" font-weight="bold" fill="#1e1e1e" textLength="200.68" lengthAdjust="spacingAndGlyphs">Transform</text>
<text x="1174.06" y="57.10" font-family="Liberation Sans, Arial, sans-serif" font-size="40.00" font-weight="bold" fill="#1e1e1e" textLength="116.69" lengthAdjust="spacingAndGlyphs">Signal</text>
<text x="642.67" y="113.00" font-family="Liberation Sans, Arial, sans-serif" font-size="38.27" font-weight="normal" fill="#1e1e1e" textLength="26.67" lengthAdjust="spacingAndGlyphs">λ</text>
<text x="680.37" y="118.37" font-family="Liberation Sans, Arial, sans-serif" font-size="37.54" font-weight="normal" fill="#9a9a9a" textLength="30.74" lengthAdjust="spacingAndGlyphs">=</text>
<text x="723.32" y="113.00" font-family="Liberation Sans, Arial, sans-serif" font-size="39.43" font-weight="bold" fill="#1e1e1e" textLength="72.90" lengthAdjust="spacingAndGlyphs">500</text>
<text transform="translate(793,115) scale(1.3,1.75)" font-family="Liberation Sans, Arial, sans-serif" font-size="44" font-weight="normal" fill="#1e1e1e">,</text>
<text x="814.29" y="113.00" font-family="Liberation Sans, Arial, sans-serif" font-size="39.43" font-weight="bold" fill="#1e1e1e" textLength="70.35" lengthAdjust="spacingAndGlyphs">700</text>
<text x="893.62" y="113.00" font-family="Liberation Sans, Arial, sans-serif" font-size="32.73" font-weight="bold" fill="#1e1e1e" textLength="59.67" lengthAdjust="spacingAndGlyphs">nm</text>
<text x="130.85" y="1103.50" font-family="Liberation Sans, Arial, sans-serif" font-size="37.14" font-weight="normal" fill="#5c5c5c" textLength="20.61" lengthAdjust="spacingAndGlyphs">0</text>
<text x="82.74" y="998.06" font-family="Liberation Sans, Arial, sans-serif" font-size="37.14" font-weight="normal" fill="#5c5c5c" textLength="76.39" lengthAdjust="spacingAndGlyphs">0.05</text>
<text x="99.58" y="892.61" font-family="Liberation Sans, Arial, sans-serif" font-size="37.14" font-weight="normal" fill="#5c5c5c" textLength="53.47" lengthAdjust="spacingAndGlyphs">0.1</text>
<text x="82.74" y="787.16" font-family="Liberation Sans, Arial, sans-serif" font-size="37.14" font-weight="normal" fill="#5c5c5c" textLength="76.39" lengthAdjust="spacingAndGlyphs">0.15</text>
<text x="99.54" y="681.72" font-family="Liberation Sans, Arial, sans-serif" font-size="37.14" font-weight="normal" fill="#5c5c5c" textLength="54.52" lengthAdjust="spacingAndGlyphs">0.2</text>
<text x="82.74" y="576.28" font-family="Liberation Sans, Arial, sans-serif" font-size="37.14" font-weight="normal" fill="#5c5c5c" textLength="76.39" lengthAdjust="spacingAndGlyphs">0.25</text>
<text x="99.58" y="470.83" font-family="Liberation Sans, Arial, sans-serif" font-size="37.14" font-weight="normal" fill="#5c5c5c" textLength="53.47" lengthAdjust="spacingAndGlyphs">0.3</text>
<text x="82.74" y="365.38" font-family="Liberation Sans, Arial, sans-serif" font-size="37.14" font-weight="normal" fill="#5c5c5c" textLength="76.39" lengthAdjust="spacingAndGlyphs">0.35</text>
<text x="99.58" y="259.94" font-family="Liberation Sans, Arial, sans-serif" font-size="37.14" font-weight="normal" fill="#5c5c5c" textLength="53.47" lengthAdjust="spacingAndGlyphs">0.4</text>
<text x="82.74" y="154.49" font-family="Liberation Sans, Arial, sans-serif" font-size="37.14" font-weight="normal" fill="#5c5c5c" textLength="76.39" lengthAdjust="spacingAndGlyphs">0.45</text>
<text x="150.62" y="1144.50" font-family="Liberation Sans, Arial, sans-serif" font-size="37.86" font-weight="normal" fill="#5c5c5c" textLength="23.19" lengthAdjust="spacingAndGlyphs">0</text>
<text x="259.90" y="1144.50" font-family="Liberation Sans, Arial, sans-serif" font-size="37.86" font-weight="normal" fill="#5c5c5c" textLength="58.34" lengthAdjust="spacingAndGlyphs">0.2</text>
<text x="385.45" y="1144.50" font-family="Liberation Sans, Arial, sans-serif" font-size="37.86" font-weight="normal" fill="#5c5c5c" textLength="57.11" lengthAdjust="spacingAndGlyphs">0.4</text>
<text x="510.19" y="1144.50" font-family="Liberation Sans, Arial, sans-serif" font-size="37.86" font-weight="normal" fill="#5c5c5c" textLength="55.93" lengthAdjust="spacingAndGlyphs">0.6</text>
<text x="633.13" y="1144.50" font-family="Liberation Sans, Arial, sans-serif" font-size="37.86" font-weight="normal" fill="#5c5c5c" textLength="57.64" lengthAdjust="spacingAndGlyphs">0.8</text>
<text x="773.35" y="1144.50" font-family="Liberation Sans, Arial, sans-serif" font-size="37.86" font-weight="normal" fill="#5c5c5c" textLength="18.19" lengthAdjust="spacingAndGlyphs">1</text>
<text x="881.36" y="1144.50" font-family="Liberation Sans, Arial, sans-serif" font-size="37.86" font-weight="normal" fill="#5c5c5c" textLength="56.39" lengthAdjust="spacingAndGlyphs">1.2</text>
<text x="1005.31" y="1144.50" font-family="Liberation Sans, Arial, sans-serif" font-size="37.86" font-weight="normal" fill="#5c5c5c" textLength="53.54" lengthAdjust="spacingAndGlyphs">1.4</text>
<text x="1131.42" y="1144.50" font-family="Liberation Sans, Arial, sans-serif" font-size="37.86" font-weight="normal" fill="#5c5c5c" textLength="55.28" lengthAdjust="spacingAndGlyphs">1.6</text>
<text x="1254.42" y="1144.50" font-family="Liberation Sans, Arial, sans-serif" font-size="37.86" font-weight="normal" fill="#5c5c5c" textLength="55.28" lengthAdjust="spacingAndGlyphs">1.8</text>
<text x="1390.83" y="1144.50" font-family="Liberation Sans, Arial, sans-serif" font-size="37.86" font-weight="normal" fill="#5c5c5c" textLength="25.22" lengthAdjust="spacingAndGlyphs">2</text>
<text x="1108.61" y="210.60" font-family="Liberation Sans, Arial, sans-serif" font-size="35.56" font-weight="normal" fill="#2e2e2e" textLength="247.93" lengthAdjust="spacingAndGlyphs">on axis theoretic</text>
<text x="1108.66" y="258.40" font-family="Liberation Sans, Arial, sans-serif" font-size="34.20" font-weight="normal" fill="#2e2e2e" textLength="228.31" lengthAdjust="spacingAndGlyphs">on axis ZEMAX</text>
<text x="683.45" y="1191.40" font-family="Liberation Sans, Arial, sans-serif" font-size="39.47" font-weight="normal" fill="#4a4a4a" textLength="11.68" lengthAdjust="spacingAndGlyphs">f</text>
<text x="706.62" y="1203.11" font-family="Liberation Sans, Arial, sans-serif" font-size="39.47" font-weight="normal" fill="#4a4a4a" textLength="14.13" lengthAdjust="spacingAndGlyphs">(</text>
<text x="718.80" y="1190.85" font-family="Liberation Sans, Arial, sans-serif" font-size="38.74" font-weight="normal" fill="#4a4a4a" textLength="148.04" lengthAdjust="spacingAndGlyphs">Arbitrary</text>
<text x="876.47" y="1203.11" font-family="Liberation Sans, Arial, sans-serif" font-size="39.47" font-weight="normal" fill="#4a4a4a" textLength="16.39" lengthAdjust="spacingAndGlyphs">)</text>
<g transform="rotate(-90)" font-family="Liberation Sans, Arial, sans-serif" font-size="39" fill="#444">
<text x="-655.0" y="67.0">|</text>
<text x="-647.0" y="59.0">P</text>
<text x="-615.6" y="67.0">1</text>
<text x="-593.3" y="67.0">(</text>
<text x="-587.0" y="59.0">f</text>
<text x="-566.4" y="67.0">)</text>
<text x="-558.3" y="67.0">|</text>
</g>
</svg></body></html>
